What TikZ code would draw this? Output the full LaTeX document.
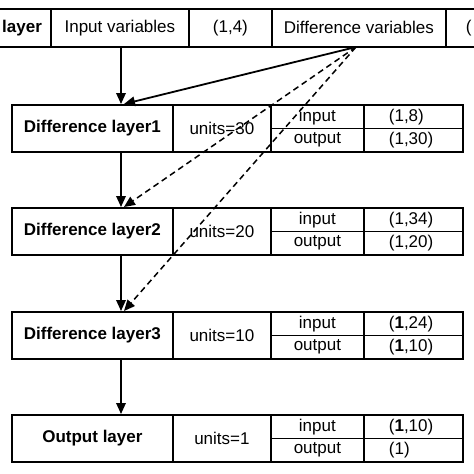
\documentclass[tikz,border=0pt]{standalone}
\usepackage{fontspec}
\setmainfont{Liberation Sans}
\usetikzlibrary{arrows.meta}
\begin{document}
\begin{tikzpicture}[x=1pt,y=-1pt,
  lw/.style={line width=1.8pt},
  cell/.style={draw, lw, rectangle, inner sep=0pt, anchor=north west,
    font=\fontsize{17}{20}\selectfont},
  namecell/.style={cell, minimum width=161pt, minimum height=47pt, font=\fontsize{17}{20}\selectfont\bfseries},
  unitcell/.style={cell, minimum width=98pt, minimum height=47pt},
  iocell/.style={cell, minimum width=93pt, minimum height=23.5pt},
  valcell/.style={cell, minimum height=23.5pt, text width=49pt, inner xsep=25pt, align=left},
  topcell/.style={cell, minimum height=38pt},
  arr/.style={lw, -{Triangle[length=11pt,width=9.5pt]}},
  darr/.style={line width=1.5pt, dash pattern=on 6pt off 4pt, -{Triangle[length=11pt,width=9.5pt]}}
]
\useasboundingbox (0,0) rectangle (474,474);
\fill[white] (0,0) rectangle (474,474);
\clip (0,0) rectangle (474,474);

% top row
\node[topcell, minimum width=80pt, text width=62pt, inner xsep=9pt, align=right, font=\fontsize{17}{20}\selectfont\bfseries] (inl) at (-30,8) {layer};
\node[topcell, minimum width=138pt] (inv) at (50,8) {Input variables};
\node[topcell, minimum width=83pt] (ins) at (188,8) {(1,4)};
\node[topcell, minimum width=174pt] (dv) at (271,8) {Difference variables};
\node[topcell, minimum width=85pt, text width=45pt, inner xsep=20pt, align=left] (dvs) at (445,8) {(};

% layer 1
\node[namecell] (n1) at (11,104) {Difference layer1};
\node[unitcell] (u1) at (172,104) {units=30};
\node[iocell] (i1) at (270,104) {input};
\node[iocell] (o1) at (270,127.5) {output};
\node[valcell] (vi1) at (363,104) {(1,8)};
\node[valcell] (vo1) at (363,127.5) {(1,30)};

% layer 2
\node[namecell] (n2) at (11,207) {Difference layer2};
\node[unitcell] (u2) at (172,207) {units=20};
\node[iocell] (i2) at (270,207) {input};
\node[iocell] (o2) at (270,230.5) {output};
\node[valcell] (vi2) at (363,207) {(1,34)};
\node[valcell] (vo2) at (363,230.5) {(1,20)};

% layer 3
\node[namecell] (n3) at (11,311) {Difference layer3};
\node[unitcell] (u3) at (172,311) {units=10};
\node[iocell] (i3) at (270,311) {input};
\node[iocell] (o3) at (270,334.5) {output};
\node[valcell] (vi3) at (363,311) {(\textbf{1},24)};
\node[valcell] (vo3) at (363,334.5) {(\textbf{1},10)};

% output layer
\node[namecell] (n4) at (11,414) {Output layer};
\node[unitcell] (u4) at (172,414) {units=1};
\node[iocell] (i4) at (270,414) {input};
\node[iocell] (o4) at (270,437.5) {output};
\node[valcell] (vi4) at (363,414) {(\textbf{1},10)};
\node[valcell] (vo4) at (363,437.5) {(1)};

% connectors
\coordinate (ax) at (121,0);
\coordinate (ax2) at (124,0);
\coordinate (src) at (356,47);
\draw[arr] (ax |- inv.south) -- (ax |- n1.north);
\draw[arr] (ax |- n1.south) -- (ax |- n2.north);
\draw[arr] (ax |- n2.south) -- (ax |- n3.north);
\draw[arr] (ax |- n3.south) -- (ax |- n4.north);
\draw[arr] (src) -- (ax2 |- n1.north);
\draw[darr] (src) -- (ax2 |- n2.north);
\draw[darr] (src) -- (ax2 |- n3.north);
\end{tikzpicture}
\end{document}
